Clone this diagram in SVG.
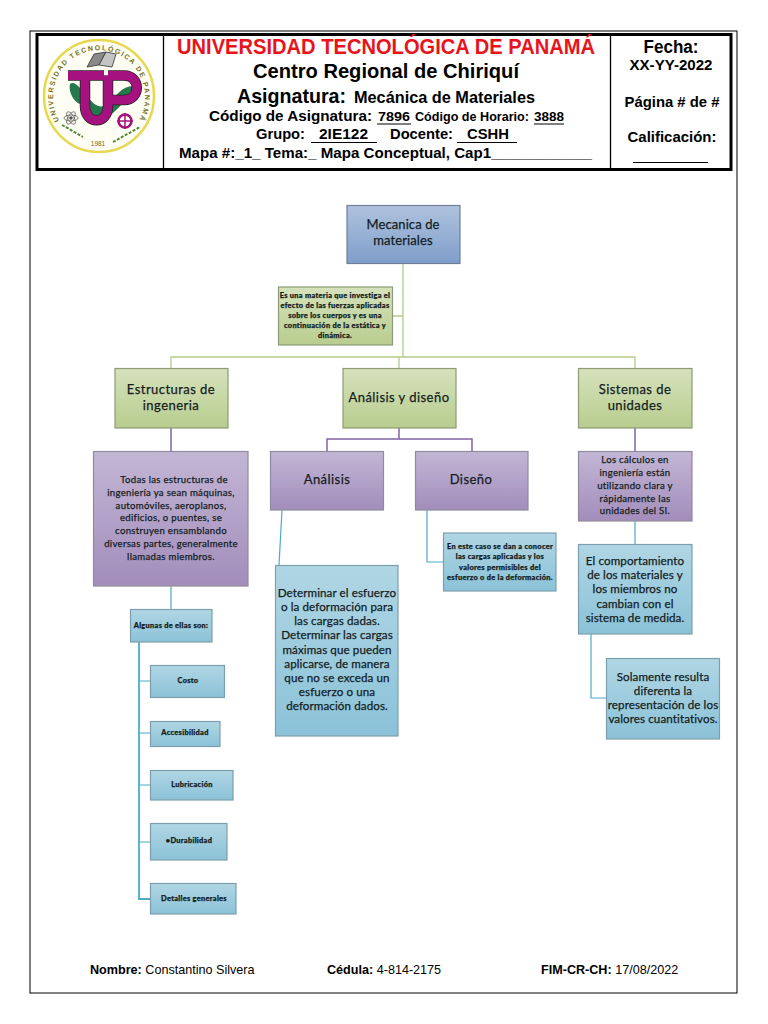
<svg xmlns="http://www.w3.org/2000/svg" width="768" height="1024" viewBox="0 0 768 1024">
<style>
text{font-family:"Liberation Sans",Arial,sans-serif;text-anchor:middle;fill:#000}
.b{font-weight:700}
.l{text-anchor:start}
.n text{font-family:Lato,"Noto Sans",sans-serif;fill:#141d22;stroke:#141d22;stroke-width:.25}
.t13{font-size:13px;letter-spacing:.45px}
.t10{font-size:9.6px;letter-spacing:.3px}
.t11{font-size:11.6px;letter-spacing:.1px}
.s{font-size:7.4px;font-weight:900;letter-spacing:.3px}
.box{stroke-width:1.2}
.g{fill:url(#gG);stroke:#8d9c76}
.h{fill:url(#gH);stroke:#6f7f96}
.p{fill:url(#gP);stroke:#8f8a9c}
.c{fill:url(#gC);stroke:#7d9eac}
.cg{fill:none;stroke:#b5cb88;stroke-width:1.3}
.cp{fill:none;stroke:#8064a2;stroke-width:1.5}
.ct{fill:none;stroke:#4bacc6;stroke-width:1.2}
.ctb{fill:none;stroke:#4bacc6;stroke-width:1.8}
.m{fill:none;stroke-linejoin:miter}
</style>
<defs>
<linearGradient id="gG" x1="0" y1="0" x2="0" y2="1"><stop offset="0" stop-color="#d6e2bd"/><stop offset="1" stop-color="#b8cd8e"/></linearGradient>
<linearGradient id="gH" x1="0" y1="0" x2="0" y2="1"><stop offset="0" stop-color="#afc2de"/><stop offset="1" stop-color="#7f9ecb"/></linearGradient>
<linearGradient id="gP" x1="0" y1="0" x2="0" y2="1"><stop offset="0" stop-color="#c3b6d5"/><stop offset="1" stop-color="#a28dbb"/></linearGradient>
<linearGradient id="gC" x1="0" y1="0" x2="0" y2="1"><stop offset="0" stop-color="#b0d6e4"/><stop offset="1" stop-color="#8bc2d8"/></linearGradient>
<path id="ringPath" d="M 60 122 A 46 47 0 1 1 138 122"/>
<path id="tup" d="M68 75.500H104M85 75.500V106C85 125 108 125 108 106V75.500M108 75.500H124C141 75.500 141 100 124 100H112"/>
</defs>
<rect width="768" height="1024" fill="#fff"/>
<rect x="30" y="31" width="707" height="962" fill="none" stroke="#000" stroke-width="1"/>
<g id="header">
<rect x="37" y="34.500" width="694" height="135" fill="none" stroke="#000" stroke-width="3"/>
<path d="M163.500 36V169M610.500 36V169" stroke="#000" stroke-width="1.300" fill="none"/>
<text class="b l" x="177" y="54" font-size="21.500" style="fill:#e8141c" textLength="418" lengthAdjust="spacingAndGlyphs">UNIVERSIDAD TECNOLÓGICA DE PANAMÁ</text>
<text class="b l" x="253" y="78" font-size="21" textLength="266" lengthAdjust="spacingAndGlyphs">Centro Regional de Chiriquí</text>
<text class="b l" x="237" y="103" font-size="21" textLength="109" lengthAdjust="spacingAndGlyphs">Asignatura:</text>
<text class="b l" x="354" y="103" font-size="17" textLength="181" lengthAdjust="spacingAndGlyphs">Mecánica de Materiales</text>
<text class="b l" x="209" y="121" font-size="15" textLength="163" lengthAdjust="spacingAndGlyphs">Código de Asignatura:</text>
<text class="b l" x="378" y="121" font-size="13" textLength="32" lengthAdjust="spacingAndGlyphs">7896</text>
<text class="b l" x="415" y="121" font-size="13" textLength="114" lengthAdjust="spacingAndGlyphs">Código de Horario:</text>
<text class="b l" x="534" y="121" font-size="13" textLength="30" lengthAdjust="spacingAndGlyphs">3888</text>
<path d="M377 124H411M534 124H564M311 142.500H377M457 142.500H517" stroke="#000" fill="none"/>
<text class="b l" x="256" y="139" font-size="15.500" textLength="49" lengthAdjust="spacingAndGlyphs">Grupo:</text>
<text class="b l" x="319" y="139" font-size="15.500" textLength="49" lengthAdjust="spacingAndGlyphs">2IE122</text>
<text class="b l" x="390" y="139" font-size="15.500" textLength="63" lengthAdjust="spacingAndGlyphs">Docente:</text>
<text class="b l" x="467" y="139" font-size="15.500" textLength="42" lengthAdjust="spacingAndGlyphs">CSHH</text>
<text class="b l" x="179" y="158" font-size="15.500" textLength="413" lengthAdjust="spacingAndGlyphs">Mapa #:_1_ Tema:_ Mapa Conceptual, Cap1____________</text>
<text class="b" x="671" y="53" font-size="17.500" textLength="55" lengthAdjust="spacingAndGlyphs">Fecha:</text>
<text class="b" x="671" y="70" font-size="15" textLength="83" lengthAdjust="spacingAndGlyphs">XX-YY-2022</text>
<text class="b" x="672" y="107" font-size="15" textLength="95" lengthAdjust="spacingAndGlyphs">Página # de #</text>
<text class="b" x="672" y="142" font-size="15" textLength="89" lengthAdjust="spacingAndGlyphs">Calificación:</text>
<path d="M633 162.500H708" stroke="#000" fill="none"/>
</g>
<g id="logo">
<ellipse cx="99" cy="96" rx="55" ry="56" fill="#fffef4" stroke="#e6d94f" stroke-width="2.500"/>
<text font-size="7" class="b" letter-spacing="1.500" style="fill:#77711c"><textPath href="#ringPath" startOffset="50%">UNIVERSIDAD TECNOLÓGICA DE PANAMÁ</textPath></text>
<path d="M87 67L94 54L106 52L99 65Z" fill="#8a8a8a" stroke="#333" stroke-width=".800"/>
<path d="M99 65L106 52L116 54L112 67Z" fill="#c4c4c4" stroke="#333" stroke-width=".800"/>
<path d="M70 84C74 80 80 88 86 94C92 104 100 110 108 104C116 96 122 86 133 86C136 92 132 98 124 102C116 110 110 118 102 118C94 118 88 108 80 104C74 102 68 92 70 84Z" fill="#23794a"/>
<use href="#tup" class="m" stroke="#222" stroke-width="10.500"/>
<use href="#tup" class="m" stroke="#a5117e" stroke-width="9"/>
<circle cx="125" cy="121" r="6.500" fill="none" stroke="#a5117e" stroke-width="2.500"/>
<path d="M125 113V129M117 121H133" stroke="#a5117e" stroke-width="1.500"/>
<circle cx="71" cy="118" r="1.800" fill="#555"/>
<ellipse cx="71" cy="118" rx="7" ry="3" fill="none" stroke="#555" stroke-width=".700"/>
<ellipse cx="71" cy="118" rx="7" ry="3" fill="none" stroke="#555" stroke-width=".700" transform="rotate(60 71 118)"/>
<ellipse cx="71" cy="118" rx="7" ry="3" fill="none" stroke="#555" stroke-width=".700" transform="rotate(120 71 118)"/>
<path d="M62 125L83 137M113 142L140 127" stroke="#4d8a3a" stroke-width="2" stroke-dasharray="3 1.500" fill="none"/>
<text x="98" y="146" font-size="6.500" style="fill:#6f6a1c">1981</text>
</g>
<g id="connectors">
<path class="cg" d="M403 263V357M392 316H403M171 368V357H635V368M399 357V368"/>
<path class="cp" d="M171 428V452M399 428V439M327 452V439H472V452M635 428V452"/>
<path class="ct" d="M282 510L279 565M427 510V562H443M635 521V544M591 634V698H607"/>
<path class="ct" d="M171 586V609"/>
<path class="ctb" d="M139 642V899H150"/>
<path class="ct" d="M139 681H150M139 733H150M139 785H150M139 842H150"/>
</g>
<g id="node-mecanica" class="n"><rect class="box h" x="347" y="205.500" width="113" height="58"/><text class="t13" style="letter-spacing:.1px" x="403" y="229">Mecanica de</text><text class="t13" style="letter-spacing:.1px" x="403" y="245">materiales</text></g>
<g id="node-definicion" class="n"><rect class="box g" x="278.500" y="287" width="114" height="58"/><text class="s" x="335" y="298">Es una materia que investiga el</text><text class="s" x="335" y="308">efecto de las fuerzas aplicadas</text><text class="s" x="335" y="318">sobre los cuerpos y es una</text><text class="s" x="335" y="328">continuación de la estática y</text><text class="s" x="335" y="338">dinámica.</text></g>
<g id="node-estructuras" class="n"><rect class="box g" x="115" y="368.500" width="113" height="59.500"/><text class="t13" x="171" y="394">Estructuras de</text><text class="t13" x="171" y="410">ingeneria</text></g>
<g id="node-analisis-diseno" class="n"><rect class="box g" x="343" y="368.500" width="113" height="59.500"/><text class="t13" x="399" y="402">Análisis y diseño</text></g>
<g id="node-sistemas" class="n"><rect class="box g" x="578.500" y="368.500" width="113.500" height="59.500"/><text class="t13" x="635" y="394">Sistemas de</text><text class="t13" x="635" y="410">unidades</text></g>
<g id="node-todas" class="n"><rect class="box p" x="93.500" y="451.500" width="154.500" height="134.500"/><text class="t10" x="174" y="483">Todas las estructuras de</text><text class="t10" x="171" y="496">ingeniería ya sean máquinas,</text><text class="t10" x="171" y="509">automóviles, aeroplanos,</text><text class="t10" x="171" y="521">edificios, o puentes, se</text><text class="t10" x="171" y="534">construyen ensamblando</text><text class="t10" x="171" y="547">diversas partes, generalmente</text><text class="t10" x="171" y="560">llamadas miembros.</text></g>
<g id="node-analisis" class="n"><rect class="box p" x="270.500" y="451.500" width="113" height="58.500"/><text class="t13" x="327" y="484">Análisis</text></g>
<g id="node-diseno" class="n"><rect class="box p" x="415.500" y="451.500" width="112.500" height="58.500"/><text class="t13" x="471" y="484">Diseño</text></g>
<g id="node-calculos" class="n"><rect class="box p" x="578.500" y="451.500" width="113.500" height="69.500"/><text class="t10" x="635" y="463">Los cálculos en</text><text class="t10" x="635" y="476">ingeniería están</text><text class="t10" x="635" y="489">utilizando clara y</text><text class="t10" x="635" y="502">rápidamente las</text><text class="t10" x="635" y="514">unidades del SI.</text></g>
<g id="node-determinar" class="n"><rect class="box c" x="275.500" y="565.500" width="122.500" height="170.500"/><text class="t11" x="337" y="597">Determinar el esfuerzo</text><text class="t11" x="337" y="611">o la deformación para</text><text class="t11" x="337" y="625">las cargas dadas.</text><text class="t11" x="337" y="639">Determinar las cargas</text><text class="t11" x="337" y="654">máximas que pueden</text><text class="t11" x="337" y="668">aplicarse, de manera</text><text class="t11" x="337" y="682">que no se exceda un</text><text class="t11" x="337" y="696">esfuerzo o una</text><text class="t11" x="337" y="710">deformación dados.</text></g>
<g id="node-eneste" class="n"><rect class="box c" x="443.500" y="533" width="112.500" height="58"/><text class="s" x="500" y="549">En este caso se dan a conocer</text><text class="s" x="500" y="559">las cargas aplicadas y los</text><text class="s" x="500" y="570">valores permisibles del</text><text class="s" x="500" y="580">esfuerzo o de la deformación.</text></g>
<g id="node-comportamiento" class="n"><rect class="box c" x="578.500" y="544.500" width="113.500" height="89.500"/><text class="t11" x="635" y="565">El comportamiento</text><text class="t11" x="635" y="579">de los materiales y</text><text class="t11" x="635" y="593">los miembros no</text><text class="t11" x="635" y="608">cambian con el</text><text class="t11" x="635" y="622">sistema de medida.</text></g>
<g id="node-solamente" class="n"><rect class="box c" x="606.500" y="658.500" width="113" height="80.500"/><text class="t11" x="663" y="681">Solamente resulta</text><text class="t11" x="663" y="695">diferenta la</text><text class="t11" x="663" y="709">representación de los</text><text class="t11" x="663" y="723">valores cuantitativos.</text></g>
<g id="node-algunas" class="n"><rect class="box c" x="130.500" y="609.500" width="81.500" height="32.500"/><text class="s" x="171" y="628">Algunas de ellas son:</text></g>
<g id="node-costo" class="n"><rect class="box c" x="150.500" y="665.500" width="74" height="32"/><text class="s" x="188" y="683">Costo</text></g>
<g id="node-accesibilidad" class="n"><rect class="box c" x="150.500" y="721.500" width="69.500" height="25"/><text class="s" x="185" y="735">Accesibilidad</text></g>
<g id="node-lubricacion" class="n"><rect class="box c" x="150.500" y="770.500" width="82.500" height="29.500"/><text class="s" x="192" y="787">Lubricación</text></g>
<g id="node-durabilidad" class="n"><rect class="box c" x="150.500" y="823.500" width="76.500" height="36.500"/><text class="s" x="189" y="843">•Durabilidad</text></g>
<g id="node-detalles" class="n"><rect class="box c" x="150.500" y="883.500" width="85.500" height="30.500"/><text class="s" x="194" y="901">Detalles generales</text></g>
<g id="footer">
<text class="l" x="90" y="974" font-size="12.600"><tspan font-weight="700">Nombre:</tspan> Constantino Silvera</text>
<text class="l" x="327" y="974" font-size="12.600"><tspan font-weight="700">Cédula:</tspan> 4-814-2175</text>
<text class="l" x="541" y="974" font-size="12.600"><tspan font-weight="700">FIM-CR-CH:</tspan> 17/08/2022</text>
</g>
</svg>
